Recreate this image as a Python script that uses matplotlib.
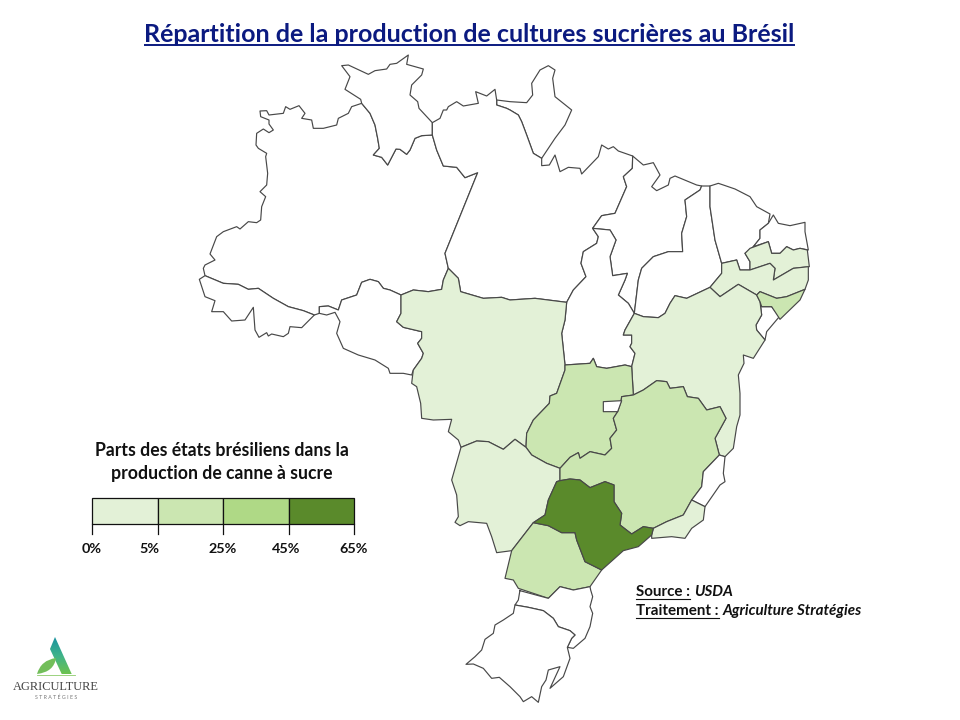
import matplotlib
matplotlib.use("Agg")
import matplotlib.pyplot as plt
import numpy as np
from matplotlib.patches import Polygon, PathPatch, Rectangle
from matplotlib.path import Path

Z1 = (195, 50); Z2 = (510, 50); Z3 = (390, 360); Z7 = (460, 590)

def px(origin, pts):
    return [(origin[0] + x / 3, origin[1] + y / 3) for x, y in pts]

def rv(chain):
    return chain[::-1]

# Shared borders
AM_N = px(Z1, [(25,655),(30,645),(60,630),(45,612),(65,560),(85,545),(125,530),(135,537),(160,515),(185,518),(197,510),(200,470),(212,440),(195,425),(215,405),(218,370),(212,320),(215,310),(190,295),(183,285),(185,250),(205,237),(222,248),(235,240),(222,222),(222,210),(197,200),(195,183),(215,182),(222,195),(265,190),(272,170),(285,178),(312,167),(330,190),(320,205),(350,210),(355,235),(385,235),(425,225),(430,205),(460,190),(470,170),(500,160)])
RR_AM = px(Z1, [(500,160),(525,190),(540,225),(548,265),(553,295),(535,315),(560,322),(578,345),(603,297),(615,298),(635,313),(645,300),(660,265),(680,257),(712,255)])
RR_N = px(Z1, [(500,160),(497,148),(450,118),(465,80),(440,47),(460,45),(520,73),(540,62),(575,57),(585,43),(605,40),(640,15),(635,43),(685,57),(680,75),(650,105),(645,135),(668,155),(672,175),(712,218),(712,255)])
AM_PA = px(Z1, [(712,255),(725,300),(745,348),(785,352),(810,383),(848,368),(750,610),(760,655)])
AM_MT = px(Z1, [(760,655),(745,690),(740,718),(700,725),(655,720),(618,735)])
AM_RO = px(Z1, [(618,735),(585,720),(565,715),(550,695),(525,688),(500,697),(485,735),(440,750),(430,780),(400,768),(373,770),(373,790),(358,795)])
AM_AC = px(Z1, [(358,795),(325,782),(280,770),(235,745),(190,715),(160,718),(130,703),(85,700),(30,677)])
AC_S = px(Z1, [(30,677),(13,688),(30,740),(60,752),(50,785),(85,785),(110,813),(150,810),(175,772),(180,840),(192,862),(215,848),(220,858),(230,852),(265,860),(280,850),(285,830),(320,833),(358,795)])
RO_S = px(Z1, [(373,790),(395,795),(420,787),(435,815),(425,850),(445,895),(490,915),(540,930),(580,955)]) + px(Z3, [(0,40),(40,40),(65,45)])
MT_RO = px(Z1, [(618,735),(618,790),(605,815),(625,832),(680,845),(680,865),(668,880),(685,910),(680,925),(655,960)])
MT_SW = px(Z3, [(68,45),(65,70),(80,80),(92,130),(95,175),(130,180),(185,178),(175,215),(205,240),(213,262)])
MT_MS = px(Z3, [(213,262),(260,243),(295,245),(340,268),(375,238),(408,262)])
MT_GO = px(Z3, [(408,262),(410,220),(430,180),(478,130),(480,108),(500,100),(525,30),(525,15)])
TO_MT = px(Z2, [(170,757),(165,810),(155,850),(165,945)])
PA_MT = px(Z1, [(760,655),(790,685),(797,725),(865,745),(920,742)]) + px(Z2, [(0,750),(75,745),(170,757)])
TO_GO = px(Z2, [(165,945),(240,940),(250,925),(260,950),(290,955),(345,945),(365,950)])
GO_BA = px(Z3, [(725,20),(730,105)])
GO_MG = px(Z3, [(730,105),(695,110),(693,125),(683,155),(670,175),(680,210),(660,235),(665,265),(645,285),(600,275),(570,295),(565,278),(540,292),(510,325)])
GO_MS = px(Z3, [(510,325),(470,310),(425,285),(408,262)])
MG_E = px(Z3, [(730,105),(760,90),(800,62),(830,65),(840,85),(880,80),(892,110),(925,115),(950,150),(990,140),(1008,175),(975,235),(988,285)])
MG_ES = px(Z3, [(988,285),(940,335),(935,380),(905,420)])
MG_RJ = px(Z3, [(905,420),(880,465),(830,485),(790,505)])
MG_SP = px(Z3, [(790,505),(760,500),(725,522),(690,495),(695,460),(672,425),(672,375),(645,365),(600,383),(570,360),(540,357),(510,362)])
SP_COAST = px(Z3, [(790,505),(785,525),(745,560),(700,572),(635,630)])
SP_PR = px(Z3, [(635,630),(585,605),(560,540),(555,518),(515,518),(475,497),(430,488)])
SP_MS = px(Z3, [(430,488),(465,465),(475,420),(500,365),(510,362)])
MS_W = px(Z3, [(430,488),(365,572),(320,578),(305,530),(290,490),(235,485),(210,497),(195,487),(205,470),(200,405),(185,360),(213,262)])
PR_OUT = px(Z3, [(430,488),(365,572),(345,655),(370,660),(385,685),(475,715),(510,680),(550,690),(600,680),(635,630)])
SC_TOP = px(Z3, [(390,692),(475,715),(510,680),(550,690),(600,680)])
SC_E = px(Z7, [(392,0),(398,20),(390,50),(398,70),(390,110),(375,145),(340,175),(322,172),(335,145),(345,135),(330,122),(295,110),(280,85),(250,62),(205,52),(165,45),(175,30),(180,0)])
RS_OUT = px(Z7, [(165,45),(160,70),(130,90),(105,105),(100,130),(75,148),(65,180),(45,200),(18,223),(40,222),(70,235),(95,265),(118,262),(150,290),(180,320),(190,335),(215,320),(235,337),(245,290),(258,270),(265,240),(300,230),(270,295),(310,260),(330,205),(322,172),(335,145),(345,135),(330,122),(295,110),(280,85),(250,62),(205,52)])
ES_OUT = px(Z3, [(988,285),(1005,290),(1000,340),(1005,365),(990,375),(945,440),(905,420)])
RJ_OUT = px(Z3, [(905,420),(945,440),(940,480),(905,505),(885,535),(845,530),(785,535),(785,525),(790,505)])
BA_E = px(Z3, [(988,285),(1005,290),(1030,265),(1040,200),(1050,165),(1050,100),(1045,45),(1062,10)]) + px(Z2, [(700,915),(730,925),(765,870),(740,840),(738,825),(755,795),(750,755),(740,735)])
PE_BA = px(Z2, [(740,735),(685,703),(630,740),(600,712)])
PI_BA = px(Z2, [(600,712),(530,745),(495,737),(480,760),(465,790),(445,803),(400,800),(373,790)])
TO_BA = px(Z2, [(373,790),(345,840),(340,855),(365,855),(365,880),(360,890),(375,910),(365,950)])
SE_OUT = px(Z2, [(750,755),(755,770),(785,770),(808,800),(770,845),(765,870),(740,840),(738,825),(755,795)])
AL_OUT = px(Z2, [(740,735),(750,725),(800,745),(830,740),(885,718),(870,750),(810,808),(785,770),(755,770),(750,755)])
PE_N = px(Z2, [(600,712),(635,670),(635,640),(680,630),(690,660),(720,660),(780,640),(795,655),(790,690),(850,655),(895,650),(895,690),(885,718)])
PE_S = px(Z2, [(885,718),(830,740),(800,745),(750,725),(740,735)])
PB_OUT = px(Z2, [(705,610),(720,595),(775,575),(785,610),(810,610),(830,590),(850,600),(870,595),(892,600),(898,650),(850,655),(790,690),(795,655),(780,640),(720,660),(720,635)])
RN_OUT = px(Z2, [(730,590),(750,565),(750,540),(775,520),(790,495),(805,520),(840,527),(885,517),(885,545),(895,600),(870,595),(850,600),(830,590),(810,610),(785,610),(775,575)])
CE_OUT = px(Z2, [(600,408),(625,400),(640,405),(675,417),(720,440),(740,470),(780,492),(775,520),(750,540),(750,565),(730,590),(705,610),(720,635),(720,660),(690,660),(680,630),(635,640),(615,570),(600,470)])
PI_W = px(Z2, [(373,790),(385,690),(395,655),(430,620),(475,605),(518,605),(515,550),(530,500),(525,450),(570,420),(575,408),(600,408),(600,470),(615,570),(635,640),(635,670),(600,712)])
MA_COAST = px(Z2, [(368,318),(400,345),(430,338),(450,375),(425,410),(440,422),(475,405),(480,385),(495,378),(560,405),(575,408)])
MA_TO = px(Z2, [(373,790),(355,760),(325,735),(345,690),(352,670),(308,677),(300,620),(318,570),(300,540),(248,535)])
MA_PA = px(Z2, [(248,535),(275,497),(315,490),(350,410),(340,380),(367,355),(368,318)])
PA_TO = px(Z2, [(248,535),(265,560),(260,580),(220,605),(213,640),(228,680),(190,720),(170,757)])
PA_N = px(Z1, [(712,218),(735,205),(745,180),(755,180),(760,170),(785,155),(805,168),(850,160),(842,125),(875,138),(900,118),(905,150)])
AP_PA = px(Z1, [(905,150),(905,165),(935,175)]) + px(Z2, [(0,180),(25,195),(35,215),(50,255),(70,310),(95,325)])
AP_E = px(Z2, [(95,325),(105,310),(135,265),(165,225),(185,180),(135,140),(128,85),(135,60),(115,47),(90,60),(65,100),(68,135),(50,158),(0,155)])
PA_COAST = px(Z2, [(95,325),(95,347),(118,345),(135,315),(150,365),(175,352),(210,355),(215,372),(265,320),(275,285),(295,297),(310,290),(325,303),(368,318)])
DF_OUT = px(Z3, [(640,125),(695,122),(683,155),(640,155)])

states = {
    "AM": AM_N + RR_AM + AM_PA + AM_MT + AM_RO + AM_AC,
    "RR": RR_N + rv(RR_AM),
    "AC": AC_S + AM_AC,
    "RO": AM_RO[:-1] + RO_S + rv(MT_RO),
    "AP": AP_E + AP_PA,
    "PA": PA_N + AP_PA + PA_COAST + rv(MA_PA) + PA_TO + rv(PA_MT) + rv(AM_PA),
    "MA": MA_COAST + PI_W[:11][::-1] + MA_TO + MA_PA,
    "TO": PA_TO + TO_MT + TO_GO + rv(TO_BA) + MA_TO[1:],
    "PI": PI_W + PI_BA,
    "CE": CE_OUT,
    "RN": RN_OUT,
    "PB": PB_OUT,
    "PE": PE_N + PE_S + PE_BA,
    "AL": AL_OUT,
    "SE": SE_OUT,
    "BA": MG_E + BA_E + PE_BA + PI_BA + TO_BA + GO_BA,
    "MT": AM_MT + MT_RO + MT_SW + MT_MS + MT_GO + rv(TO_MT) + rv(PA_MT),
    "GO": MT_GO + TO_GO[1:] + GO_BA[1:] + GO_MG + GO_MS,
    "DF": DF_OUT,
    "MS": MT_MS + rv(GO_MS) + rv(SP_MS) + MS_W,
    "MG": rv(GO_MG) + MG_E + MG_ES + MG_RJ + MG_SP,
    "ES": ES_OUT + rv(MG_ES),
    "RJ": RJ_OUT + rv(MG_RJ),
    "PR": PR_OUT + SP_PR,
    "SC": SC_TOP + SC_E,
    "RS": RS_OUT,
    "SP": rv(MG_SP) + SP_COAST + SP_PR + SP_MS,
}

# Share class per state; states not listed carry no colour
state_class = {"MT": 0, "MS": 0, "BA": 0, "RJ": 0, "PE": 0, "PB": 0,
               "GO": 1, "MG": 1, "PR": 1, "AL": 1, "SP": 3}

class_colors = ["#E3F1D7", "#CBE6B1", "#AFD986", "#5A8A2B"]
legend_ticks = ["0%", "5%", "25%", "45%", "65%"]
legend_title = ["Parts des états brésiliens dans la", "production de canne à sucre"]
title_text = "Répartition de la production de cultures sucrières au Brésil"

FONT = ["Lato", "DejaVu Sans"]
LINE = "#484848"
fig = plt.figure(figsize=(9.6, 7.2), dpi=100, facecolor="white")
ax = fig.add_axes([0, 0, 1, 1])
ax.set_xlim(0, 960); ax.set_ylim(720, 0); ax.axis("off")

draw_order = [s for s in states if s not in ("SP", "AL", "DF")] + ["AL", "SP", "DF"]
for name in draw_order:
    cls = state_class.get(name, -1)
    fc = class_colors[cls] if cls >= 0 else "white"
    ax.add_patch(Polygon(states[name], closed=True, facecolor=fc, edgecolor=LINE,
                         linewidth=0.85, joinstyle="round", zorder=2))

renderer = fig.canvas.get_renderer()

# Title
NAVY = "#0B1A80"
t = ax.text(469.5, 42, title_text, ha="center", va="baseline", fontsize=18.0,
            fontweight="bold", color=NAVY, family=FONT, zorder=5)
bb = t.get_window_extent(renderer)
ax.plot([bb.x0, bb.x1], [45, 45], color=NAVY, lw=1.4, solid_capstyle="butt", zorder=5)

# Legend
ax.text(222, 456, legend_title[0], ha="center", va="baseline", fontsize=12.7, fontweight="bold", color="#111111", family=FONT)
ax.text(222, 479, legend_title[1], ha="center", va="baseline", fontsize=12.7, fontweight="bold", color="#111111", family=FONT)
edges = [92.3, 157.5, 223.3, 289.3, 354.3]
for i, col in enumerate(class_colors):
    ax.add_patch(Rectangle((edges[i], 498), edges[i+1] - edges[i], 26, facecolor=col,
                           edgecolor="#111111", linewidth=0.9, zorder=3))
for x in edges:
    ax.plot([x, x], [524, 534], color="#111111", lw=0.9, zorder=3)
for x, lab in zip([92, 149, 223, 286, 353.5], legend_ticks):
    ax.text(x, 553, lab, ha="center", va="baseline", fontsize=10.4, fontweight="bold", color="#111111", family=FONT)

# Source
def run(x, y, s, style, ul=False):
    tx = ax.text(x, y, s, ha="left", va="baseline", fontsize=10.9, fontweight="bold",
                 fontstyle=style, color="#111111", family=FONT, zorder=5)
    b = tx.get_window_extent(renderer)
    if ul:
        ax.plot([b.x0, b.x1], [y + 2.5, y + 2.5], color="#111111", lw=0.8, zorder=5)
    return b.x1

x1 = run(636, 596, "Source :", "normal", True)
run(x1 + 4, 596, "USDA", "italic")
x1 = run(636, 615, "Traitement :", "normal", True)
run(x1 + 4, 615, "Agriculture Stratégies", "italic")

# Logo
grad = np.linspace(0, 1, 64).reshape(-1, 1)
cmap = matplotlib.colors.LinearSegmentedColormap.from_list("a", ["#1A93A0", "#3FB38A", "#6CC24F"])
A = [(55, 637), (71.7, 674), (61.7, 674), (50, 649)]
im = ax.imshow(grad, extent=(45, 75, 674, 637), cmap=cmap, aspect="auto", zorder=4)
im.set_clip_path(Polygon(A, closed=True, transform=ax.transData))
leaf = Path([(37, 674), (41, 660), (56, 658), (54, 672), (37, 674)],
            [Path.MOVETO, Path.CURVE3, Path.CURVE3, Path.CURVE3, Path.CURVE3])
ax.add_patch(PathPatch(leaf, facecolor="#72BE5A", edgecolor="none", zorder=4))
ax.plot([37, 75], [674.5, 674.5], color="#8CCB6A", lw=0.6, zorder=4)
ax.set_xlim(0, 960); ax.set_ylim(720, 0)
ax.text(56, 690, "AGRICULTURE", ha="center", va="baseline", fontsize=8.9,
        family=["Liberation Serif"], color="#444444", zorder=5)
ax.text(56, 699, "S T R A T É G I E S", ha="center", va="baseline", fontsize=3.8,
        family=FONT, color="#777777", zorder=5)

fig.savefig("out.png", dpi=100, facecolor="white")
